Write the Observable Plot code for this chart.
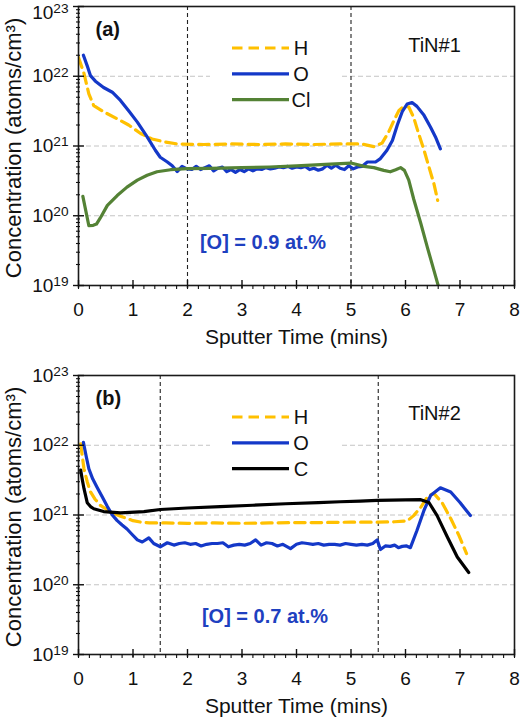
<!DOCTYPE html>
<html><head><meta charset="utf-8">
<script src="https://cdn.jsdelivr.net/npm/d3@7"></script>
<script src="https://cdn.jsdelivr.net/npm/@observablehq/plot@0.6"></script>
<style>
body{margin:0;background:#fff;}
#chart{width:520px;}
#chart svg{display:block;}
</style></head><body><div id="chart"></div>
<script>
// ---------- tick values / labels ----------
const xMajorTicks = [0,1,2,3,4,5,6,7,8];
const xMinorTicks = d3.range(0, 8.01, 0.2).map(v => +v.toFixed(1));
const yMajorTicks = [1e19,1e20,1e21,1e22,1e23];
const yMinorTicks = [19,20,21,22].flatMap(e => [2,3,4,5,6,7,8,9].map(m => m * Math.pow(10, e)));
const gridValues = [1e20,1e21,1e22];
const xLabel = "Sputter Time (mins)";
const yLabel = "Concentration (atoms/cm³)";

// ---------- panel (a) TiN#1 ----------
const aTag = "(a)", aSample = "TiN#1", aNote = "[O] = 0.9 at.%";
const aMarkers = [2, 5];
const aLegend = ["H","O","Cl"];
const aH_t = [0,0.1,0.19,0.28,0.46,0.71,0.92,1.14,1.35,1.57,1.81,2.3,2.8,3.3,3.8,4.3,4.8,5.2,5.42,5.57,5.69,5.79,5.88,5.97,6.06,6.15,6.24,6.34,6.43,6.52,6.59];
const aH_v = [1.86e22,1.1e22,5.6e21,3.8e21,3.1e21,2.45e21,2.0e21,1.51e21,1.26e21,1.15e21,1.07e21,1.05e21,1.07e21,1.05e21,1.07e21,1.05e21,1.07e21,1.07e21,9.8e20,1.1e21,1.58e21,2.34e21,3.24e21,3.7e21,3.63e21,2.57e21,1.51e21,8.7e20,5.0e20,2.9e20,1.66e20];
const aO_t = [0.09,0.16,0.22,0.31,0.46,0.62,0.77,0.92,1.08,1.26,1.41,1.5,1.63,1.72,1.81,1.9,1.99,2.08,2.16,2.24,2.32,2.4,2.48,2.56,2.64,2.72,2.8,2.88,2.96,3.04,3.12,3.2,3.28,3.36,3.44,3.52,3.6,3.68,3.76,3.84,3.92,4.0,4.08,4.16,4.24,4.32,4.4,4.48,4.56,4.64,4.72,4.8,4.88,4.96,5.04,5.12,5.2,5.3,5.45,5.54,5.66,5.76,5.85,5.94,6.03,6.12,6.21,6.34,6.46,6.55,6.64];
const aO_v = [2.0e22,1.41e22,1.02e22,8.5e21,6.9e21,5.9e21,4.5e21,3.2e21,2.2e21,1.35e21,8.7e20,6.9e20,5.9e20,5.2e20,4.3e20,5.1e20,4.7e20,4.6e20,5.1e20,4.6e20,4.9e20,5.2e20,4.4e20,4.8e20,5.0e20,4.3e20,4.6e20,4.2e20,4.6e20,4.3e20,4.7e20,4.4e20,4.7e20,4.6e20,4.9e20,4.7e20,4.8e20,5.0e20,4.9e20,5.1e20,4.8e20,5.0e20,4.9e20,5.1e20,4.6e20,4.8e20,4.5e20,4.7e20,5.3e20,4.8e20,5.3e20,4.8e20,4.6e20,5.2e20,4.7e20,5.0e20,5.1e20,5.9e20,5.9e20,6.6e20,8.7e20,1.2e21,2.0e21,3.1e21,4.0e21,4.2e21,3.7e21,2.75e21,1.86e21,1.35e21,9.1e20];
const aCl_t = [0.08,0.19,0.27,0.33,0.4,0.53,0.71,0.89,1.08,1.26,1.44,1.69,1.99,2.42,3.0,3.5,4.0,4.62,5.0,5.24,5.42,5.6,5.72,5.82,5.91,5.98,6.06,6.15,6.28,6.4,6.52,6.6];
const aCl_v = [1.9e20,7.2e19,7.3e19,7.6e19,9.3e19,1.41e20,1.95e20,2.57e20,3.24e20,3.8e20,4.27e20,4.57e20,4.73e20,4.79e20,4.9e20,5.0e20,5.2e20,5.5e20,5.7e20,5.1e20,4.9e20,4.47e20,4.27e20,4.57e20,4.9e20,4.47e20,3.24e20,1.74e20,7.8e19,3.55e19,1.66e19,1.0e19];

// ---------- panel (b) TiN#2 ----------
const bTag = "(b)", bSample = "TiN#2", bNote = "[O] = 0.7 at.%";
const bMarkers = [1.5, 5.5];
const bLegend = ["H","O","C"];
const bH_t = [0.04,0.1,0.16,0.22,0.3,0.4,0.52,0.65,0.77,0.89,1.0,1.14,1.3,1.6,2.0,2.5,3.0,3.5,4.0,4.5,5.0,5.5,5.8,6.03,6.15,6.28,6.41,6.52,6.67,6.83,6.98,7.12];
const bH_v = [1.05e22,4.6e21,3.0e21,2.15e21,1.7e21,1.38e21,1.2e21,1.05e21,9.6e20,8.9e20,8.3e20,7.9e20,7.7e20,7.7e20,7.6e20,7.7e20,7.6e20,7.7e20,7.8e20,7.8e20,7.9e20,7.9e20,8.0e20,8.2e20,9.8e20,1.29e21,1.86e21,2.04e21,1.51e21,8.9e20,5.1e20,2.8e20];
const bO_t = [0.09,0.14,0.19,0.26,0.34,0.43,0.53,0.62,0.71,0.8,0.89,0.98,1.08,1.17,1.29,1.38,1.5,1.63,1.75,1.85,1.95,2.05,2.15,2.25,2.35,2.45,2.55,2.65,2.75,2.85,2.95,3.05,3.15,3.25,3.35,3.45,3.55,3.65,3.75,3.89,4.0,4.1,4.2,4.3,4.4,4.5,4.6,4.7,4.8,4.9,5.0,5.1,5.2,5.3,5.4,5.48,5.54,5.63,5.72,5.8,5.87,5.94,6.02,6.09,6.21,6.34,6.46,6.64,6.83,7.0,7.19];
const bO_v = [1.1e22,7e21,4.6e21,3.3e21,2.5e21,1.85e21,1.32e21,1.0e21,8.3e20,7.2e20,6.3e20,5.3e20,4.4e20,4.1e20,4.7e20,3.9e20,3.5e20,4.0e20,3.7e20,3.9e20,4.0e20,3.8e20,3.9e20,3.6e20,3.8e20,3.9e20,3.9e20,4.0e20,3.5e20,3.7e20,3.8e20,3.7e20,3.9e20,4.4e20,3.7e20,4.0e20,3.9e20,3.6e20,3.8e20,3.3e20,3.8e20,4.0e20,3.9e20,3.8e20,3.9e20,3.7e20,3.8e20,3.8e20,3.7e20,3.9e20,3.8e20,3.7e20,3.8e20,3.7e20,3.9e20,4.4e20,3.2e20,3.6e20,3.55e20,3.7e20,3.4e20,3.55e20,3.6e20,3.4e20,6.0e20,1.17e21,1.9e21,2.45e21,2.14e21,1.51e21,9.8e20];
const bC_t = [0.04,0.07,0.1,0.16,0.22,0.28,0.46,0.77,1.2,1.5,2.0,2.6,3.2,3.8,4.4,4.8,5.17,5.48,6.0,6.28,6.43,6.58,6.77,6.95,7.16];
const bC_v = [4.4e21,3.2e21,2.4e21,1.5e21,1.32e21,1.23e21,1.12e21,1.07e21,1.12e21,1.2e21,1.26e21,1.32e21,1.38e21,1.45e21,1.5e21,1.55e21,1.58e21,1.62e21,1.65e21,1.66e21,1.51e21,9.8e20,4.8e20,2.5e20,1.5e20];

// ---------- styles ----------
const COLORS = {H: "#FFC000", O: "#1438C8", Cl: "#548235", C: "#000000"};
const DASH = {H: "10.5,6"};
const NOTE_COLOR = "#1E40C0";
const FONT = "'Liberation Sans', Arial, Helvetica, sans-serif";

function rows(t, v) { return t.map((x, i) => ({t: x, v: v[i]})); }

function panel(cfg) {
  const {height, marginTop, marginBottom, series, markers, tag, sample, note, noteDy, sampleDy, legend} = cfg;
  const marks = [
    Plot.gridY(gridValues, {stroke: "#c4c4c4", strokeOpacity: 1, strokeDasharray: "5,3", strokeWidth: 1}),
    Plot.ruleX(markers, {stroke: "#222", strokeDasharray: "4,3", strokeWidth: 1.1}),
    ...series.map(s => Plot.line(rows(s.t, s.v), {x: "t", y: "v", stroke: COLORS[s.key], strokeWidth: 3.2,
      strokeDasharray: DASH[s.key] || null, strokeLinejoin: "round", clip: true})),
    Plot.frame({stroke: "#1a1a1a", strokeWidth: 1.6}),
    Plot.axisX({ticks: xMinorTicks, tickSize: 4, tickFormat: () => "", label: null, strokeWidth: 1.1}),
    Plot.axisX({ticks: xMajorTicks, tickSize: 8, dy: -5, tickFormat: () => "", label: null, strokeWidth: 1.4}),
    Plot.axisX({ticks: xMajorTicks, tickSize: 0, tickPadding: 17, fontSize: 19, label: null}),
    Plot.axisY({ticks: yMinorTicks, tickSize: 4, dx: 2, tickFormat: () => "", label: null, strokeWidth: 1.1}),
    Plot.axisY({ticks: yMajorTicks, tickSize: 11, dx: 6, tickFormat: () => "", label: null, strokeWidth: 1.4}),
    Plot.axisY({ticks: yMajorTicks, tickSize: 0, tickPadding: 10, fontSize: 19, label: null,
      tickFormat: d => String(Math.round(Math.log10(d)))}),
    Plot.text([xLabel], {text: d => d, frameAnchor: "bottom", dy: 52, fontSize: 21, textAnchor: "middle", lineAnchor: "middle"}),
    Plot.text([yLabel], {text: d => d, frameAnchor: "left", dx: -65, dy: 2, rotate: -90, fontSize: 22, textAnchor: "middle", lineAnchor: "middle"}),
    Plot.text([tag], {text: d => d, frameAnchor: "top-left", dx: 17, dy: 23, textAnchor: "start", lineAnchor: "middle", fontSize: 20, fontWeight: "bold"}),
    Plot.text([sample], {text: d => d, frameAnchor: "top-right", dx: -80, dy: sampleDy, fontSize: 20, textAnchor: "middle", lineAnchor: "middle"}),
    Plot.text([note], {text: d => d, frameAnchor: "bottom-left", dx: cfg.noteDx, dy: noteDy, fontSize: 20, fontWeight: "bold", fill: NOTE_COLOR, textAnchor: "middle", lineAnchor: "middle"})
  ];
  const svg = Plot.plot({
    width: 520, height, marginTop, marginBottom, marginLeft: 78, marginRight: 6,
    x: {domain: [0, 8]},
    y: {type: "log", domain: [1e19, 1e23]},
    style: {fontFamily: FONT, fontSize: "19px", background: "white", color: "#111", overflow: "visible"},
    marks
  });
  // superscript exponents on y tick labels (top label nudged down to stay inside the picture, as in the reference)
  d3.select(svg).selectAll('g[aria-label="y-axis tick label"] text').each(function() {
    const e = this.textContent;
    if (!e) return;
    const s = d3.select(this);
    s.text("10");
    s.append("tspan").attr("dy", "-0.42em").attr("font-size", "0.72em").text(e);
    if (e === "23" && marginTop < 12) {
      const tr = s.attr("transform") || "";
      s.attr("transform", tr + " translate(0,6)");
    }
  });
  // in-plot legend with white box
  const g = d3.select(svg).append("g").attr("font-family", FONT);
  g.append("rect").attr("x", 210).attr("y", marginTop + 22).attr("width", 132).attr("height", 84).attr("fill", "white");
  legend.forEach((k, i) => {
    const y = marginTop + 42 + i * 25.8;
    g.append("line").attr("x1", 232).attr("x2", 289).attr("y1", y).attr("y2", y)
      .attr("stroke", COLORS[k]).attr("stroke-width", 3.2).attr("stroke-dasharray", DASH[k] || null);
    g.append("text").attr("x", 301).attr("y", y).attr("dy", "0.35em").attr("font-size", 20).attr("fill", "#111").text(k);
  });
  return svg;
}

const chart = document.getElementById("chart");
chart.append(panel({
  height: 360, marginTop: 6, marginBottom: 75,
  series: [{key: "H", t: aH_t, v: aH_v}, {key: "O", t: aO_t, v: aO_v}, {key: "Cl", t: aCl_t, v: aCl_v}],
  markers: aMarkers, tag: aTag, sample: aSample, note: aNote, noteDx: 184.5, noteDy: -43, sampleDy: 39, legend: aLegend
}));
chart.append(panel({
  height: 358, marginTop: 15, marginBottom: 64,
  series: [{key: "H", t: bH_t, v: bH_v}, {key: "O", t: bO_t, v: bO_v}, {key: "C", t: bC_t, v: bC_v}],
  markers: bMarkers, tag: bTag, sample: bSample, note: bNote, noteDx: 186.5, noteDy: -38, sampleDy: 38, legend: bLegend
}));
</script>
</body></html>
